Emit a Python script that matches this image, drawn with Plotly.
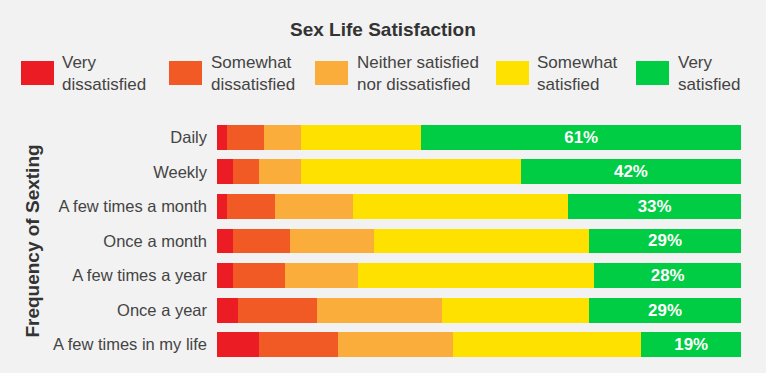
import plotly.graph_objects as go

categories = ["Daily", "Weekly", "A few times a month", "Once a month",
              "A few times a year", "Once a year", "A few times in my life"]
series_names = ["Very<br>dissatisfied", "Somewhat<br>dissatisfied",
                "Neither satisfied<br>nor dissatisfied", "Somewhat<br>satisfied",
                "Very<br>satisfied"]
very_dissatisfied = [2, 3, 2, 3, 3, 4, 8]
somewhat_dissatisfied = [7, 5, 9, 11, 10, 15, 15]
neither = [7, 8, 15, 16, 14, 24, 22]
somewhat_satisfied = [23, 42, 41, 41, 45, 28, 36]
very_satisfied = [61, 42, 33, 29, 28, 29, 19]
colors = ["#EC1C24", "#F15A24", "#FBAD3B", "#FFE100", "#00CC44"]

W, H = 766, 373
L, R, T, B = 217, 25, 120, 11

fig = go.Figure()
all_series = [very_dissatisfied, somewhat_dissatisfied, neither, somewhat_satisfied, very_satisfied]
for i, (vals, col, name) in enumerate(zip(all_series, colors, series_names)):
    is_last = i == len(all_series) - 1
    fig.add_trace(go.Bar(
        y=categories, x=vals, orientation="h", marker=dict(color=col, line=dict(width=0)),
        name=name, showlegend=False, hoverinfo="skip",
        text=[f"{v}%" for v in vals] if is_last else None,
        textposition="inside" if is_last else "none",
        insidetextanchor="middle",
        textfont=dict(family="Liberation Sans, Arial", size=17, color="white", weight="bold"),
    ))

def px_x(p):
    return (p - L) / (W - L - R)

def px_y(p):
    return (H - B - p) / (H - T - B)

shapes = []
annotations = []
sw_x = [21, 169, 315, 496, 636]
tx_x = [60, 209, 355, 535, 676]
for sx, tx, col, name in zip(sw_x, tx_x, colors, series_names):
    shapes.append(dict(type="rect", xref="paper", yref="paper",
                       x0=px_x(sx), x1=px_x(sx + 33), y0=px_y(85), y1=px_y(61),
                       fillcolor=col, line=dict(width=0)))
    annotations.append(dict(xref="paper", yref="paper", x=px_x(tx), y=px_y(73),
                            xanchor="left", yanchor="middle", align="left",
                            text=name, showarrow=False,
                            font=dict(family="Liberation Sans, Arial", size=17, color="#444444")))

annotations.append(dict(xref="paper", yref="paper", x=px_x(383), y=px_y(29),
                        xanchor="center", yanchor="middle", showarrow=False,
                        text="<b>Sex Life Satisfaction</b>",
                        font=dict(family="Liberation Sans, Arial", size=19, color="#333333")))

fig.update_layout(
    width=W, height=H,
    margin=dict(l=L, r=R, t=T, b=B),
    paper_bgcolor="#F2F2F2", plot_bgcolor="#F2F2F2",
    barmode="stack", bargap=0.28,
    shapes=shapes, annotations=annotations,
    xaxis=dict(range=[0, 100], visible=False, fixedrange=True),
    yaxis=dict(autorange="reversed", showgrid=False, zeroline=False, showline=False,
               ticks="", ticklabelstandoff=9,
               tickfont=dict(family="Liberation Sans, Arial", size=16.5, color="#444444"),
               title=dict(text="<b>Frequency of Sexting</b>", standoff=8,
                          font=dict(family="Liberation Sans, Arial", size=19, color="#333333"))),
    font=dict(family="Liberation Sans, Arial"),
)

fig.write_html("out.html", config={"displayModeBar": False},
               post_script="document.body.style.margin='0';document.body.style.background='#F2F2F2';document.body.style.overflow='hidden';")
